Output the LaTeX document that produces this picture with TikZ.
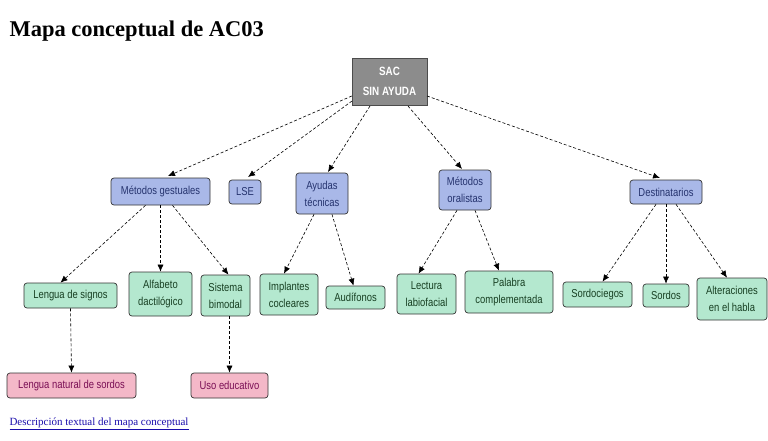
\documentclass[tikz,border=0pt]{standalone}
\usepackage{fontspec}
\setmainfont{Liberation Serif}
\newfontfamily\nodefont[FakeStretch=0.82]{Liberation Sans}
\usetikzlibrary{arrows.meta}
\definecolor{bfill}{HTML}{A9B8E8}
\definecolor{btext}{HTML}{25336E}
\definecolor{gfill}{HTML}{B4E8CF}
\definecolor{gtext}{HTML}{173F22}
\definecolor{pfill}{HTML}{F4B8C8}
\definecolor{ptext}{HTML}{7A0F55}
\definecolor{sfill}{HTML}{8C8C8C}
\definecolor{linkc}{HTML}{1A0DAB}
\begin{document}
\begin{tikzpicture}[x=1pt,y=-1pt,
  box/.style={draw=black!80,rounded corners=3pt,line width=0.7pt,align=center,font=\nodefont\fontsize{11.5}{17}\selectfont,inner sep=0pt},
  blue/.style={box,fill=bfill,text=btext},
  green/.style={box,fill=gfill,text=gtext},
  pink/.style={box,fill=pfill,text=ptext},
  arr/.style={-{Latex[length=7pt,width=6pt]},dashed,line width=0.6pt,dash pattern=on 3pt off 2pt}]
\useasboundingbox (0,0) rectangle (768,440);
\node[anchor=base west,font=\bfseries\fontsize{22.5}{26}\selectfont] (title) at (6,36) {Mapa conceptual de AC03};
\node[anchor=base west,font=\fontsize{11}{12}\selectfont,text=linkc] (link) at (6,425) {\underline{Descripción textual del mapa conceptual}};
\node[draw=black!70,fill=sfill,text=white,minimum width=75pt,minimum height=47pt,align=center,inner sep=0pt,font=\nodefont\bfseries\fontsize{12}{20}\selectfont] (sac) at (389.5,81.5) {SAC\\SIN AYUDA};
\node[blue,minimum width=99pt,minimum height=27pt] (mg) at (160.5,191.5) {Métodos gestuales};
\node[blue,minimum width=32pt,minimum height=24pt] (lse) at (245,192) {LSE};
\node[blue,minimum width=52pt,minimum height=41pt] (at) at (322,193.5) {Ayudas\\técnicas};
\node[blue,minimum width=52pt,minimum height=40pt] (mo) at (465,190) {Métodos\\oralistas};
\node[blue,minimum width=72pt,minimum height=24pt] (de) at (666,192) {Destinatarios};
\node[green,minimum width=93pt,minimum height=25pt] (ls) at (70.5,295.5) {Lengua de signos};
\node[green,minimum width=63pt,minimum height=44pt] (ad) at (160.5,294) {Alfabeto\\dactilógico};
\node[green,minimum width=49pt,minimum height=41pt] (sb) at (225.5,295.5) {Sistema\\bimodal};
\node[green,minimum width=58pt,minimum height=41pt] (ic) at (289,294.5) {Implantes\\cocleares};
\node[green,minimum width=59pt,minimum height=23pt] (au) at (355.5,297.5) {Audífonos};
\node[green,minimum width=59pt,minimum height=40pt] (ll) at (426.5,294) {Lectura\\labiofacial};
\node[green,minimum width=88pt,minimum height=42pt] (pc) at (509,292) {Palabra\\complementada};
\node[green,minimum width=69pt,minimum height=25pt] (sc) at (597.5,294.5) {Sordociegos};
\node[green,minimum width=46pt,minimum height=23pt] (so) at (666,295.5) {Sordos};
\node[green,minimum width=70pt,minimum height=42pt] (al) at (732,299) {Alteraciones\\en el habla};
\node[pink,minimum width=129pt,minimum height=25pt] (ln) at (71.5,385.5) {Lengua natural de sordos};
\node[pink,minimum width=77pt,minimum height=25pt] (ue) at (229.5,385.5) {Uso educativo};
\draw[arr] (sac.west |- 0,96) -- (168,176);
\draw[arr] (352,101) -- (248,177);
\draw[arr] (370,106) -- (328,172);
\draw[arr] (408,106) -- (462,169);
\draw[arr] (427,96) -- (660,178);
\draw[arr] ([xshift=-15pt]mg.south) -- ([xshift=-10pt]ls.north);
\draw[arr] (mg.south) -- (ad.north);
\draw[arr] ([xshift=12pt]mg.south) -- ([xshift=3pt]sb.north);
\draw[arr] ([xshift=-8pt]at.south) -- ([xshift=-5pt]ic.north);
\draw[arr] ([xshift=10pt]at.south) -- ([xshift=-2pt]au.north);
\draw[arr] ([xshift=-8pt]mo.south) -- ([xshift=-8pt]ll.north);
\draw[arr] ([xshift=10pt]mo.south) -- ([xshift=-10pt]pc.north);
\draw[arr] ([xshift=-10pt]de.south) -- ([xshift=5pt]sc.north);
\draw[arr] (de.south) -- (so.north);
\draw[arr] ([xshift=10pt]de.south) -- ([xshift=-5pt]al.north);
\draw[arr] (ls.south) -- (ln.north);
\draw[arr] ([xshift=4pt]sb.south) -- (ue.north);
\end{tikzpicture}
\end{document}
